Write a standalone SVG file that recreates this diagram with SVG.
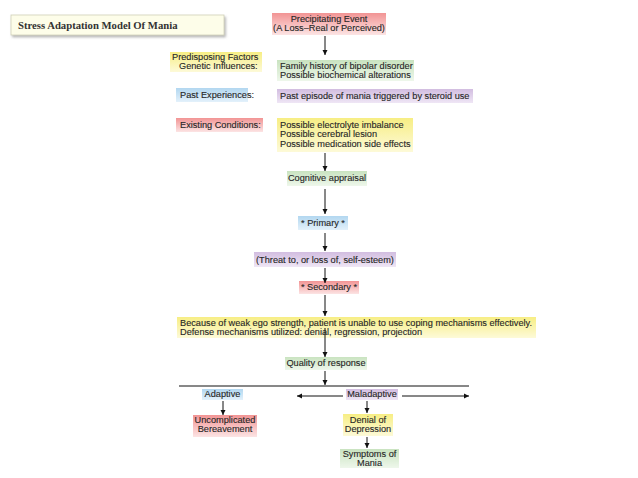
<svg xmlns="http://www.w3.org/2000/svg" width="638" height="478" viewBox="0 0 638 478">
<defs>
<linearGradient id="gRed" x1="0" y1="0" x2="0" y2="1"><stop offset="0" stop-color="#f29494"/><stop offset="1" stop-color="#fce4e4"/></linearGradient>
<linearGradient id="gGreen" x1="0" y1="0" x2="0" y2="1"><stop offset="0" stop-color="#c9e3c0"/><stop offset="1" stop-color="#eef7eb"/></linearGradient>
<linearGradient id="gPurple" x1="0" y1="0" x2="0" y2="1"><stop offset="0" stop-color="#d2bde0"/><stop offset="1" stop-color="#efe6f5"/></linearGradient>
<linearGradient id="gBlue" x1="0" y1="0" x2="0" y2="1"><stop offset="0" stop-color="#b2d7f0"/><stop offset="1" stop-color="#e3f1fb"/></linearGradient>
<linearGradient id="gYellow" x1="0" y1="0" x2="0" y2="1"><stop offset="0" stop-color="#f7ee84"/><stop offset="1" stop-color="#fdfad8"/></linearGradient>
<filter id="soft" x="-5%" y="-20%" width="110%" height="140%"><feGaussianBlur stdDeviation="0.6"/></filter>
<filter id="shadow" x="-5%" y="-30%" width="115%" height="170%"><feDropShadow dx="1.5" dy="2" stdDeviation="1.2" flood-color="#888" flood-opacity="0.6"/></filter>
<marker id="ah" viewBox="0 0 10 10" refX="10" refY="5" markerWidth="5" markerHeight="6" orient="auto" markerUnits="userSpaceOnUse"><path d="M0,0 L10,5 L0,10 z" fill="#111"/></marker>
</defs>
<style>
text{font-family:"Liberation Sans",Arial,sans-serif;font-size:9.2px;fill:#262626;stroke:#262626;stroke-width:0.12}
.c{text-anchor:middle}
.box{filter:url(#soft)}
.r{fill:url(#gRed)}.g{fill:url(#gGreen)}.p{fill:url(#gPurple)}.b{fill:url(#gBlue)}.y{fill:url(#gYellow)}
.ln{stroke:#111;stroke-width:1;fill:none}
.ar{stroke:#111;stroke-width:1;fill:none;marker-end:url(#ah)}
</style>
<rect width="638" height="478" fill="#ffffff"/>

<g id="title">
<rect x="11" y="15" width="213" height="20" fill="#fdfde9" stroke="#cfcfb8" stroke-width="0.8" filter="url(#shadow)"/>
<text x="18" y="29" style="font-family:'Liberation Serif','Times New Roman',serif;font-weight:bold;font-size:10.7px;fill:#333;stroke:none">Stress Adaptation Model Of Mania</text>
</g>

<g id="precipitating">
<rect class="box r" x="272" y="13" width="114" height="22"/>
<text class="c" x="329" y="22">Precipitating Event</text>
<text class="c" x="329" y="31">(A Loss–Real or Perceived)</text>
</g>

<g id="predisposing">
<rect class="box y" x="170" y="52" width="92" height="20"/>
<text x="172" y="60">Predisposing Factors</text>
<text x="179" y="69">Genetic Influences:</text>
</g>

<g id="family">
<rect class="box g" x="277" y="60" width="137" height="21"/>
<text x="280" y="69">Family history of bipolar disorder</text>
<text x="280" y="78">Possible biochemical alterations</text>
</g>

<g id="pastexp">
<rect class="box b" x="176" y="88" width="72" height="14"/>
<text x="180" y="98">Past Experiences:</text>
</g>

<g id="pastepisode">
<rect class="box p" x="277" y="89" width="196" height="14"/>
<text x="280" y="99">Past episode of mania triggered by steroid use</text>
</g>

<g id="existing">
<rect class="box r" x="176" y="118" width="87" height="14"/>
<text x="180" y="128">Existing Conditions:</text>
</g>

<g id="possible">
<rect class="box y" x="277" y="118" width="136" height="34"/>
<text x="280" y="128">Possible electrolyte imbalance</text>
<text x="280" y="137">Possible cerebral lesion</text>
<text x="280" y="147">Possible medication side effects</text>
</g>

<g id="cognitive">
<rect class="box g" x="287" y="171" width="80" height="15"/>
<text class="c" x="327" y="181">Cognitive appraisal</text>
</g>

<g id="primary">
<rect class="box b" x="298" y="216" width="50" height="14"/>
<text class="c" x="323" y="226">* Primary *</text>
</g>

<g id="threat">
<rect class="box p" x="254" y="252" width="142" height="15"/>
<text class="c" x="325" y="263">(Threat to, or loss of, self-esteem)</text>
</g>

<g id="secondary">
<rect class="box r" x="299" y="281" width="60" height="13"/>
<text class="c" x="329" y="290">* Secondary *</text>
</g>

<g id="because">
<rect class="box y" x="177" y="317" width="359" height="21"/>
<text x="180" y="326">Because of weak ego strength, patient is unable to use coping mechanisms effectively.</text>
<text x="180" y="335">Defense mechanisms utilized: denial, regression, projection</text>
</g>

<g id="quality">
<rect class="box g" x="285" y="357" width="82" height="13"/>
<text class="c" x="326" y="366">Quality of response</text>
</g>

<g id="adaptive">
<rect class="box b" x="202" y="389" width="41" height="11"/>
<text class="c" x="222.5" y="397">Adaptive</text>
</g>

<g id="uncomplicated">
<rect class="box r" x="193" y="415" width="64" height="22"/>
<text class="c" x="225" y="423">Uncomplicated</text>
<text class="c" x="225" y="432">Bereavement</text>
</g>

<g id="maladaptive">
<rect class="box p" x="346" y="389" width="52" height="11"/>
<text class="c" x="372" y="397">Maladaptive</text>
</g>

<g id="denial">
<rect class="box y" x="343" y="414" width="50" height="22"/>
<text class="c" x="368" y="423">Denial of</text>
<text class="c" x="368" y="432">Depression</text>
</g>

<g id="symptoms">
<rect class="box g" x="340" y="449" width="59" height="19"/>
<text class="c" x="369.5" y="457">Symptoms of</text>
<text class="c" x="369.5" y="466">Mania</text>
</g>

<g id="connectors">
<line class="ar" x1="325" y1="36" x2="325" y2="55"/>
<line class="ar" x1="325" y1="153" x2="325" y2="171"/>
<line class="ar" x1="325" y1="189" x2="325" y2="214"/>
<line class="ar" x1="325" y1="233" x2="325" y2="251"/>
<line class="ar" x1="325" y1="268" x2="325" y2="283"/>
<line class="ar" x1="325" y1="295" x2="325" y2="316"/>
<line class="ar" x1="325" y1="328" x2="325" y2="357"/>
<line class="ar" x1="325" y1="371" x2="325" y2="385"/>
<line class="ln" x1="179" y1="386" x2="469" y2="386"/>
<line class="ar" x1="223" y1="401" x2="223" y2="415"/>
<line class="ar" x1="343" y1="396" x2="297" y2="396"/>
<line class="ar" x1="402" y1="396" x2="469" y2="396"/>
<line class="ar" x1="367" y1="401" x2="367" y2="413"/>
<line class="ar" x1="367" y1="437" x2="367" y2="448"/>
</g>
</svg>
